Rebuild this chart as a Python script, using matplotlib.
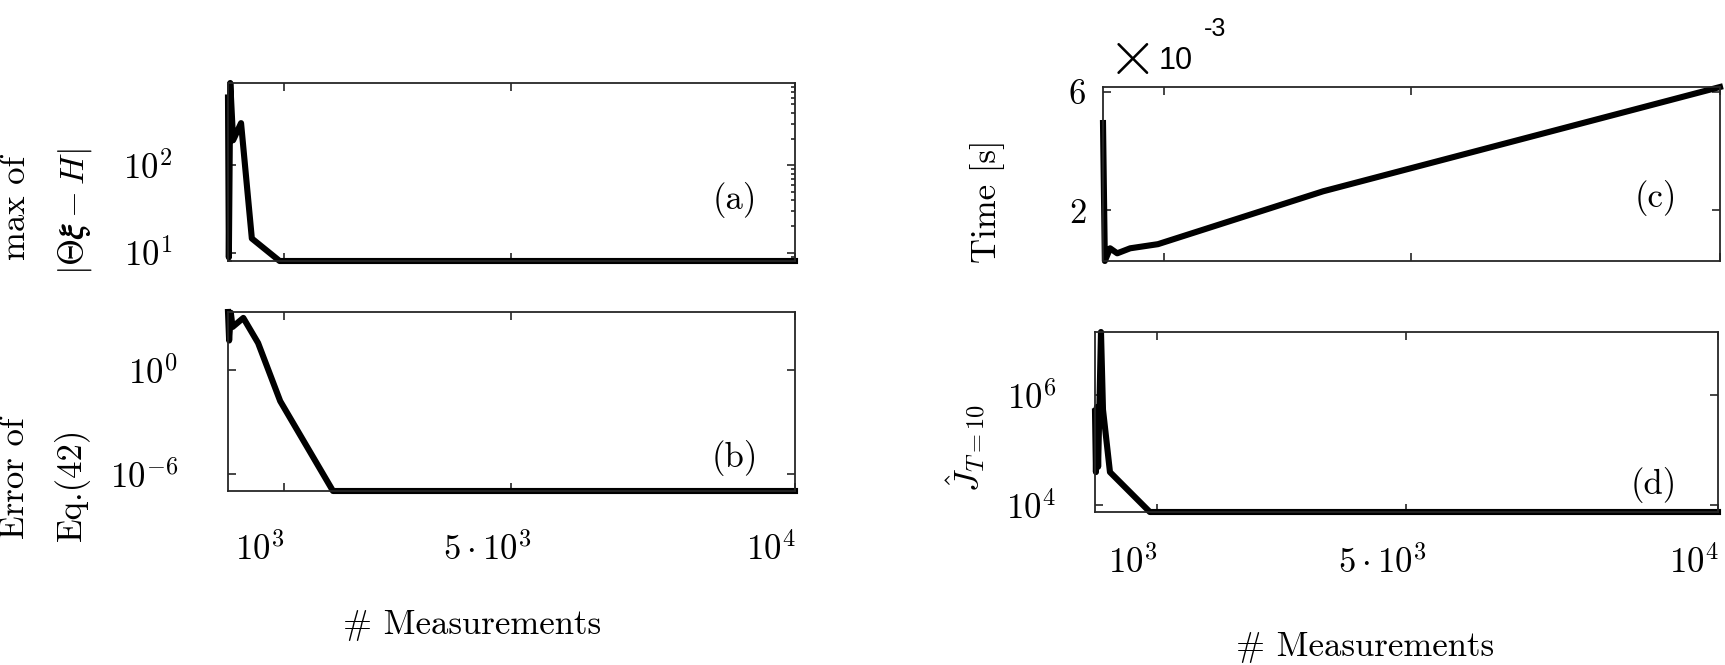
import numpy as np
import matplotlib
matplotlib.use("Agg")
import matplotlib.pyplot as plt
import matplotlib.transforms as mtransforms
from matplotlib.ticker import FixedLocator, FixedFormatter, LogLocator, NullLocator, NullFormatter

# Reihen
meas_a = [10, 25, 50, 100, 240, 430, 920, 10000]
maxres_a = [600, 8.8, 880, 194, 305, 14.5, 8, 8]

meas_b = [10, 30, 60, 90, 280, 540, 930, 1860, 10000]
err_b = [2200, 50, 2000, 300, 1000, 36, 0.016, 1.05e-7, 1.05e-7]

meas_c = [10, 40, 125, 240, 450, 900, 3575, 10000]
time_c = [4.95e-3, 0.28e-3, 0.71e-3, 0.54e-3, 0.71e-3, 0.85e-3, 2.64e-3, 6.17e-3]

meas_d = [10, 25, 40, 60, 106, 138, 250, 890, 10000]
cost_d = [5e5, 4e4, 6e5, 5e4, 1.36e7, 5.4e5, 4e4, 7.6e3, 7.6e3]

x_ticks = [1000, 5000, 10000]
x_ticklabels = [r"$10^{3}$", r"$5\cdot10^{3}$", r"$10^{4}$"]

W, H = 1725, 665
plt.rcParams["font.family"] = "serif"
plt.rcParams["font.serif"] = ["cmr10"]
plt.rcParams["mathtext.fontset"] = "cm"
plt.rcParams["axes.unicode_minus"] = False
plt.rcParams["axes.formatter.use_mathtext"] = True

fig = plt.figure(figsize=(W / 100, H / 100), dpi=100)
spine_col = "#262626"
LW = 4.4


def px_axes(left, top, right, bottom):
    return fig.add_axes([left / W, 1 - bottom / H, (right - left) / W, (bottom - top) / H])


def px_text(x, y, s, **kw):
    fig.text(x / W, 1 - y / H, s, ha="center", va="center", **kw)


def style(ax, xlabels, xpad, ypad):
    ax.set_xlim(10, 10000)
    ax.xaxis.set_major_locator(FixedLocator(x_ticks))
    ax.xaxis.set_major_formatter(FixedFormatter(x_ticklabels))
    ax.xaxis.set_minor_locator(NullLocator())
    ax.tick_params(which="both", direction="in", top=True, right=True,
                   color=spine_col, width=1.2, labelsize=25)
    ax.tick_params(which="major", length=6)
    ax.tick_params(which="minor", length=3)
    ax.tick_params(axis="x", pad=xpad, labelbottom=xlabels)
    ax.tick_params(axis="y", pad=ypad)
    for sp in ax.spines.values():
        sp.set_color(spine_col)
        sp.set_linewidth(1.3)
    # wie im Original etwas nach links versetzt
    shift = mtransforms.ScaledTranslation(-24 / 100, 0, fig.dpi_scale_trans)
    for t in ax.get_xticklabels():
        t.set_transform(t.get_transform() + shift)


# (a)
ax_a = px_axes(228, 83, 795, 261)
ax_a.plot(meas_a, maxres_a, color="black", lw=LW, clip_on=False)
ax_a.set_yscale("log")
ax_a.set_ylim(min(maxres_a), max(maxres_a))
ax_a.yaxis.set_major_locator(FixedLocator([10, 100]))
ax_a.yaxis.set_major_formatter(FixedFormatter([r"$10^{1}$", r"$10^{2}$"]))
ax_a.yaxis.set_minor_locator(LogLocator(subs=np.arange(2, 10)))
ax_a.yaxis.set_minor_formatter(NullFormatter())
style(ax_a, False, 30, 40)

# (b)
ax_b = px_axes(228, 312, 795, 491)
ax_b.plot(meas_b, err_b, color="black", lw=LW, clip_on=False)
ax_b.set_yscale("log")
ax_b.set_ylim(min(err_b), max(err_b))
ax_b.yaxis.set_major_locator(FixedLocator([1e-6, 1]))
ax_b.yaxis.set_major_formatter(FixedFormatter([r"$10^{-6}$", r"$10^{0}$"]))
ax_b.yaxis.set_minor_locator(NullLocator())
style(ax_b, True, 30, 36)

# (c)
ax_c = px_axes(1103, 87, 1720, 261)
ax_c.plot(meas_c, time_c, color="black", lw=LW, clip_on=False)
ax_c.set_ylim(min(time_c), max(time_c))
ax_c.yaxis.set_major_locator(FixedLocator([2e-3, 6e-3]))
ax_c.yaxis.set_major_formatter(FixedFormatter(["2", "6"]))
ax_c.yaxis.set_minor_locator(NullLocator())
style(ax_c, False, 30, 12)

# (d)
ax_d = px_axes(1095, 332, 1718, 512)
ax_d.plot(meas_d, cost_d, color="black", lw=LW, clip_on=False)
ax_d.set_yscale("log")
ax_d.set_ylim(min(cost_d), max(cost_d))
ax_d.yaxis.set_major_locator(FixedLocator([1e4, 1e6]))
ax_d.yaxis.set_major_formatter(FixedFormatter([r"$10^{4}$", r"$10^{6}$"]))
ax_d.yaxis.set_minor_locator(NullLocator())
style(ax_d, True, 24, 28)

# Achsenbeschriftungen
lab = 25
px_text(16, 208, "max of", rotation=90, fontsize=lab)
px_text(75, 212, r"$|\mathbf{\Theta}\boldsymbol{\xi} - H|$", rotation=90, fontsize=lab)
px_text(15, 478, "Error of", rotation=90, fontsize=lab)
px_text(72, 484, "Eq.(42)", rotation=90, fontsize=lab)
px_text(987, 201, "Time [s]", rotation=90, fontsize=lab)
px_text(966, 448, r"$\hat{J}_{T=10}$", rotation=90, fontsize=lab)
px_text(472, 625, "# Measurements", fontsize=lab)
px_text(1365, 647, "# Measurements", fontsize=lab)

# Panelbuchstaben
px_text(735, 200, "(a)", fontsize=lab)
px_text(735, 458, "(b)", fontsize=lab)
px_text(1656, 198, "(c)", fontsize=lab)
px_text(1654, 485, "(d)", fontsize=lab)

# Exponent von (c)
px_text(1128, 58, r"$\times$", fontsize=46)
px_text(1176, 61, "10", fontsize=22, family="Liberation Sans")
px_text(1215, 29, "-3", fontsize=18, family="Liberation Sans")

fig.savefig("out.png", dpi=100)
